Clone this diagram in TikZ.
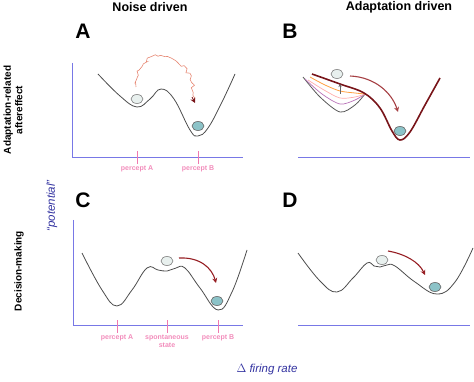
\documentclass[tikz,border=0pt]{standalone}
\usepackage{fontspec}
\setmainfont{Liberation Sans}
\usetikzlibrary{shapes.geometric,arrows.meta,decorations.pathmorphing}
\definecolor{AxisBlue}{RGB}{120,120,230}
\definecolor{LabelBlue}{RGB}{50,50,160}
\definecolor{TickPink}{RGB}{240,120,175}
\definecolor{WellRed}{RGB}{120,20,25}
\definecolor{ArrowRed}{RGB}{150,30,35}
\definecolor{NoiseOrange}{RGB}{230,135,115}
\definecolor{BallLight}{RGB}{232,240,238}
\definecolor{BallTeal}{RGB}{140,195,200}

\begin{document}
\begin{tikzpicture}[x=1pt,y=-1pt,
  title/.style={font=\fontsize{12.5}{14}\selectfont\bfseries},
  letter/.style={font=\fontsize{21}{24}\selectfont\bfseries},
  rowlabel/.style={font=\fontsize{10}{11.5}\selectfont\bfseries,rotate=90,align=center},
  axislabel/.style={font=\fontsize{11.5}{13}\selectfont\itshape,text=LabelBlue},
  axis/.style={AxisBlue,line width=1pt},
  tick/.style={TickPink,line width=1pt},
  ticklabel/.style={font=\fontsize{7}{8}\selectfont\bfseries,text=TickPink!85,align=center,inner sep=1.5pt},
  well/.style={black!70,line width=0.8pt,smooth,tension=0.7},
  ball/.style={ellipse,draw=gray,line width=0.6pt,minimum width=12pt,minimum height=9pt,inner sep=0pt},
  ballold/.style={ball,fill=BallLight},
  ballnew/.style={ball,fill=BallTeal,draw=black!60},
  jump/.style={-{Stealth[length=5pt,width=5pt]},ArrowRed,line width=1.1pt}
]
\useasboundingbox (0,0) rectangle (474,382);

% column and row headings
\node[title] (noise) at (150,7) {Noise driven};
\node[title] (adapt) at (399,7) {Adaptation driven};
\node[letter] (lA) at (83,31) {A};
\node[letter] (lB) at (290,31) {B};
\node[letter] (lC) at (83,200) {C};
\node[letter] (lD) at (290,200) {D};
\node[rowlabel] (rowtop) at (13,110) {Adaptation-related\\aftereffect};
\node[rowlabel] (rowbot) at (19,271) {Decision-making};
\node[axislabel,rotate=90] (pot) at (52,206) {“potential”};
\node[axislabel] (rate) at (267,370) {$\Delta$ firing rate};

% panel A
\draw[axis] (72,63) -- (72,158) -- (243,158);
\draw[well] plot coordinates {(98,74) (120,96) (137,107) (150,99) (161,89) (174,99) (190,130) (198,136) (208,128) (222,102) (235,74)};
\draw[tick] (137,151) -- (137,164) node[ticklabel,below] (pA) {percept A};
\draw[tick] (198,151) -- (198,164) node[ticklabel,below] (pB) {percept B};
\node[ballold] (ballA1) at (137,99) {};
\node[ballnew] (ballA2) at (198,126) {};
\coordinate (wigS) at (136,87);
\coordinate (wigE) at (193,100);
\draw[NoiseOrange,line width=0.6pt,decorate,decoration={random steps,segment length=3pt,amplitude=1.8pt}]
  (wigS) .. controls (136,62) and (152,54) .. (165,57) .. controls (185,62) and (196,80) .. (wigE);
\draw[-{Stealth[length=5pt,width=5pt]},WellRed,line width=0.8pt] (192,97) -- (195,103);

% panel B
\draw[axis] (298,158) -- (470,158);
\draw[black!65,line width=0.8pt,smooth] plot coordinates {(303,77) (320,97) (340,112) (355,105) (365,94)};
\draw[violet!55,line width=0.7pt,smooth] plot coordinates {(305,79) (322,94) (340,104) (355,100) (365,94)};
\draw[pink!90!red,line width=0.7pt,smooth] plot coordinates {(308,80) (324,90) (340,98) (355,97) (365,94)};
\draw[orange!75,line width=0.8pt,smooth] plot coordinates {(310,77) (325,85) (340,91) (355,93) (365,94)};
\draw[WellRed,line width=1.6pt,smooth,tension=0.6] plot coordinates {(312,74) (340,84) (364,93) (380,108) (392,131) (400,140) (410,132) (425,105) (440,78)};
\node[ballold] (ballB1) at (337,74) {};
\node[ballnew] (ballB2) at (400,131) {};
\coordinate (liftS) at (340,94);
\coordinate (liftE) at (340,84);
\draw[-{Stealth[length=3pt,width=3pt]},black!60,line width=0.6pt] (liftS) -- (liftE);
\coordinate (slideBS) at (350,76);
\coordinate (slideBE) at (398,112);
\draw[jump,ArrowRed!85] (slideBS) .. controls (375,77) and (392,93) .. (slideBE);

% panel C
\draw[axis] (73,220) -- (73,325) -- (243,325);
\draw[well] plot coordinates {(82,253) (102,290) (117,306) (132,290) (147,268) (158,270) (167,271) (176,268) (185,268) (200,288) (218,310) (232,292) (247,250)};
\draw[tick] (117,320) -- (117,333) node[ticklabel,below] (cA) {percept A};
\draw[tick] (167,320) -- (167,333) node[ticklabel,below] (cS) {spontaneous\\state};
\draw[tick] (218,320) -- (218,333) node[ticklabel,below] (cB) {percept B};
\node[ballold] (ballC1) at (167,261) {};
\node[ballnew] (ballC2) at (217,301) {};
\coordinate (slideCS) at (179,258);
\coordinate (slideCE) at (216,283);
\draw[jump] (slideCS) .. controls (200,257) and (212,268) .. (slideCE);

% panel D
\draw[axis] (298,325) -- (470,325);
\draw[well] plot coordinates {(298,253) (320,281) (337,292) (353,278) (367,263) (374,266) (380,267) (387,265) (395,266) (415,282) (437,294) (455,282) (473,248)};
\node[ballold] (ballD1) at (382,260) {};
\node[ballnew] (ballD2) at (435,287) {};
\coordinate (slideDS) at (388,251);
\coordinate (slideDE) at (425,275);
\draw[jump] (slideDS) .. controls (405,254) and (419,262) .. (slideDE);
\end{tikzpicture}
\end{document}
